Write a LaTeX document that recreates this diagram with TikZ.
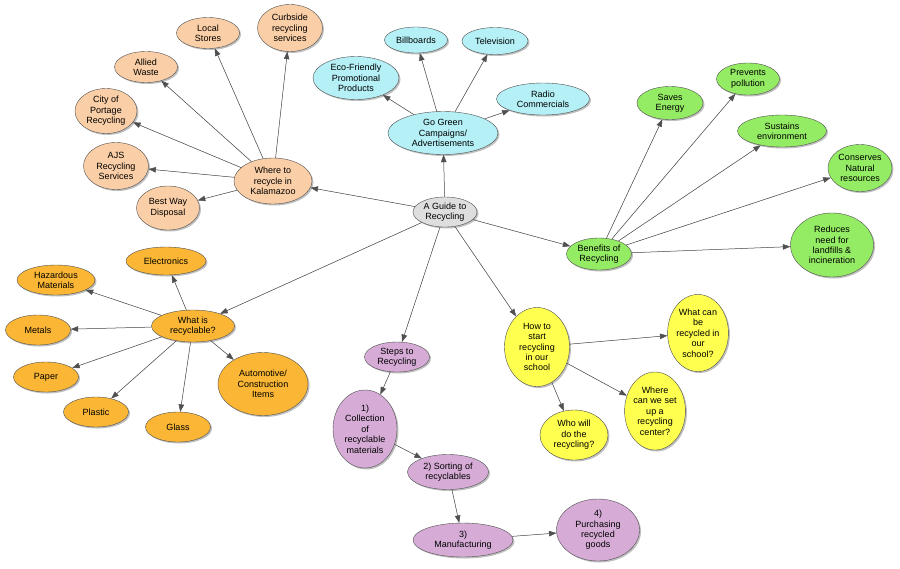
\documentclass[tikz,border=0pt]{standalone}
\usepackage{fontspec}
\setmainfont{Liberation Sans}
\usetikzlibrary{shapes.geometric,shadows,arrows.meta}
\definecolor{peachfill}{RGB}{250,206,166}
\definecolor{cyanfill}{RGB}{180,240,246}
\definecolor{greenfill}{RGB}{148,236,100}
\definecolor{orangefill}{RGB}{250,182,52}
\definecolor{purplefill}{RGB}{214,172,214}
\definecolor{yellowfill}{RGB}{255,255,80}
\definecolor{hubfill}{RGB}{222,222,222}
\definecolor{edgegray}{RGB}{80,80,80}
\tikzstyle{topic}=[ellipse, draw=edgegray, thin, inner sep=0pt, align=center,
  font=\fontsize{9}{10.4}\selectfont,
  drop shadow={shadow xshift=1.5pt, shadow yshift=-1.5pt, fill=black, opacity=0.25}]
\tikzstyle{hub}=[topic, fill=hubfill]
\tikzstyle{peach}=[topic, fill=peachfill]
\tikzstyle{sky}=[topic, fill=cyanfill]
\tikzstyle{lime}=[topic, fill=greenfill]
\tikzstyle{amber}=[topic, fill=orangefill]
\tikzstyle{plum}=[topic, fill=purplefill]
\tikzstyle{lemon}=[topic, fill=yellowfill]
\tikzstyle{arr}=[-{Triangle[length=7.5pt, width=5.5pt]}, draw=edgegray, fill=edgegray, line width=0.5pt]

\begin{document}
\begin{tikzpicture}[x=1pt, y=-1pt]
                \useasboundingbox[fill=white] (0,0) rectangle (900,568);
                % centre
                \node[hub, minimum width=64, minimum height=30] (g) at (445,212) {A Guide to\\Recycling};
                % where to recycle
                \node[peach, minimum width=78, minimum height=46] (w) at (273,181) {Where to\\recycle in\\Kalamazoo};
                \node[peach, minimum width=63, minimum height=44] (bw) at (168,208) {Best Way\\Disposal};
                \node[peach, minimum width=65, minimum height=47] (ajs) at (116,166) {AJS\\Recycling\\Services};
                \node[peach, minimum width=62, minimum height=45] (cp) at (106,111) {City of\\Portage\\Recycling};
                \node[peach, minimum width=63, minimum height=31] (aw) at (146,67) {Allied\\Waste};
                \node[peach, minimum width=63, minimum height=31] (ls) at (208,33) {Local\\Stores};
                \node[peach, minimum width=65, minimum height=47] (cs) at (290,28) {Curbside\\recycling\\services};
                % go green
                \node[sky, minimum width=110, minimum height=43] (gg) at (443,133) {Go Green\\Campaigns/\\Advertisements};
                \node[sky, minimum width=86, minimum height=43] (eco) at (356,78) {Eco-Friendly\\Promotional\\Products};
                \node[sky, minimum width=63, minimum height=26] (bb) at (416,40) {Billboards};
                \node[sky, minimum width=66, minimum height=27] (tv) at (495,41) {Television};
                \node[sky, minimum width=93, minimum height=32] (rc) at (543,99) {Radio\\Commercials};
                % benefits
                \node[lime, minimum width=65, minimum height=32] (b) at (599,254) {Benefits of\\Recycling};
                \node[lime, minimum width=66, minimum height=33] (se) at (670,103) {Saves\\Energy};
                \node[lime, minimum width=63, minimum height=32] (pp) at (748,79) {Prevents\\pollution};
                \node[lime, minimum width=89, minimum height=32] (su) at (782,131) {Sustains\\environment};
                \node[lime, minimum width=64, minimum height=47] (cn) at (860,168) {Conserves\\Natural\\resources};
                \node[lime, minimum width=83, minimum height=64] (rd) at (832,245) {Reduces\\need for\\landfills \&\\incineration};
                % what is recyclable
                \node[amber, minimum width=83, minimum height=32] (wr) at (193,326) {What is\\recyclable?};
                \node[amber, minimum width=80, minimum height=28] (el) at (166,261) {Electronics};
                \node[amber, minimum width=78, minimum height=30] (hz) at (56,280) {Hazardous\\Materials};
                \node[amber, minimum width=65, minimum height=30] (me) at (38,330) {Metals};
                \node[amber, minimum width=65, minimum height=30] (pa) at (46,377) {Paper};
                \node[amber, minimum width=65, minimum height=30] (pl) at (96,412) {Plastic};
                \node[amber, minimum width=65, minimum height=30] (gl) at (178,427) {Glass};
                \node[amber, minimum width=90, minimum height=63] (au) at (263,384) {Automotive/\\Construction\\Items};
                % steps
                \node[plum, minimum width=65, minimum height=30] (s) at (397,357) {Steps to\\Recycling};
                \node[plum, minimum width=64, minimum height=78] (s1) at (365,429) {1)\\Collection\\of\\recyclable\\materials};
                \node[plum, minimum width=81, minimum height=35] (s2) at (448,472) {2) Sorting of\\recyclables};
                \node[plum, minimum width=100, minimum height=34] (s3) at (463,540) {3)\\Manufacturing};
                \node[plum, minimum width=83, minimum height=62] (s4) at (598,530) {4)\\Purchasing\\recycled\\goods};
                % school
                \node[lemon, minimum width=65, minimum height=79] (h) at (537,347) {How to\\start\\recycling\\in our\\school};
                \node[lemon, minimum width=68, minimum height=50] (ww) at (574,435) {Who will\\do the\\recycling?};
                \node[lemon, minimum width=57, minimum height=78] (wh) at (655,411) {Where\\can we set\\up a\\recycling\\center?};
                \node[lemon, minimum width=60, minimum height=77] (wc) at (698,333) {What can\\be\\recycled in\\our\\school?};
                % connectors
                \foreach \t in {w, gg, b, wr, s, h} \draw[arr] (g) -- (\t);
                \foreach \t in {bw, ajs, cp, aw, ls, cs} \draw[arr] (w) -- (\t);
                \foreach \t in {eco, bb, tv, rc} \draw[arr] (gg) -- (\t);
                \foreach \t in {se, pp, su, cn, rd} \draw[arr] (b) -- (\t);
                \foreach \t in {el, hz, me, pa, pl, gl, au} \draw[arr] (wr) -- (\t);
                \foreach \t in {wc, wh, ww} \draw[arr] (h) -- (\t);
                \draw[arr] (s) -- (s1);
                \draw[arr] (s1) -- (s2);
                \draw[arr] (s2) -- (s3);
                \draw[arr] (s3) -- (s4);
            \end{tikzpicture}
\end{document}
